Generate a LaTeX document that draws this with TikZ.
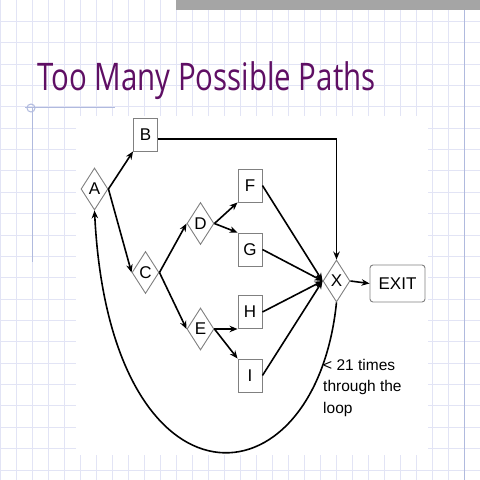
\documentclass[tikz,border=0pt]{standalone}
\usepackage{fontspec}
\usepackage{graphicx}
\setmainfont{Liberation Sans}
\newfontfamily\titlefont{Open Sans}
\usetikzlibrary{shapes.geometric,arrows.meta}
\definecolor{gridc}{RGB}{226,228,245}
\definecolor{margc}{RGB}{176,186,222}
\definecolor{titlepurple}{RGB}{95,15,100}
\definecolor{boxgray}{RGB}{128,128,128}
\definecolor{bargray}{RGB}{165,165,165}
\newcommand{\lblfont}{\fontsize{17}{20}\selectfont}
\begin{document}
\begin{tikzpicture}[x=1pt,y=-1pt,
  box/.style={draw=boxgray, line width=0.9pt, fill=white, minimum width=24pt, minimum height=33pt, inner sep=0pt, font=\lblfont},
  dia/.style={diamond, draw=boxgray, line width=0.9pt, fill=white, minimum width=27pt, minimum height=42pt, inner sep=0pt, font=\lblfont},
  arr/.style={-{Stealth[length=8pt,width=6.5pt]}, line width=1.6pt},
  gridline/.style={draw=gridc, line width=0.8pt},
  margline/.style={draw=margc, line width=1pt}
]
\useasboundingbox (0,0) rectangle (480,480);
\fill[white] (0,0) rectangle (480,480);
% background grid
\foreach \i in {0,...,30} \draw[gridline] (\i*16,0) -- (\i*16,480);
\foreach \j in {1,...,22} \draw[gridline] (0,\j*21.36) -- (480,\j*21.36);
% margin decorations
\draw[margline] (464,0) -- (464,480);
\draw[margline] (25,107) -- (115,107);
\draw[margline] (32,108) -- (32,262);
\draw[margline] (31,108) circle (4);
% top bar
\fill[bargray] (176,0) rectangle (480,10);
% white picture area
\fill[white] (76,116) rectangle (428,455);
% title
\node[anchor=base west, inner sep=0pt, text=titlepurple, font=\titlefont\fontsize{38}{40}\selectfont] (title) at (37,90) {\scalebox{0.775}[1]{Too Many Possible Paths}};
% nodes
\node[dia] (A) at (94.5,189) {A};
\node[box] (B) at (145.5,134.5) {B};
\node[dia] (C) at (145.5,272.5) {C};
\node[dia] (D) at (200.5,223.5) {D};
\node[dia] (E) at (200.5,329) {E};
\node[box] (F) at (250,185.5) {F};
\node[box] (G) at (250,249.5) {G};
\node[box] (H) at (250,312) {H};
\node[box] (I) at (250,375.5) {I};
\node[dia] (X) at (336.5,281) {X};
\node[box, rounded corners=3pt, minimum width=55pt, minimum height=37pt] (EXIT) at (397.5,283.5) {EXIT};
\node[anchor=north west, align=left, inner sep=0pt, font=\fontsize{15.5}{21.5}\selectfont] (note) at (323,359) {< 21 times\\through the\\loop};
% connectors
\draw[arr] (A.east) -- (B.south west);
\draw[arr] ([yshift=-4.5pt]B.east) -| (X.north);
\draw[arr] (A.east) -- (C.west);
\draw[arr] (C.east) -- (D.west);
\draw[arr] (C.east) -- (E.west);
\draw[arr] (D.east) -- (F.south west);
\draw[arr] (D.east) -- (G.north west);
\draw[arr] (E.east) -- (E.east -| H.west);
\draw[arr] (E.east) -- (I.north west);
\draw[arr] (F.east) -- (X.west);
\draw[arr] (G.east) -- (X.west);
\draw[arr] (H.east) -- (X.west);
\draw[arr] (I.east) -- (X.west);
\draw[arr] (X.east) -- (EXIT.west);
\draw[arr] (X.south) .. controls (315,511) and (110,521) .. (A.south);
\end{tikzpicture}
\end{document}
